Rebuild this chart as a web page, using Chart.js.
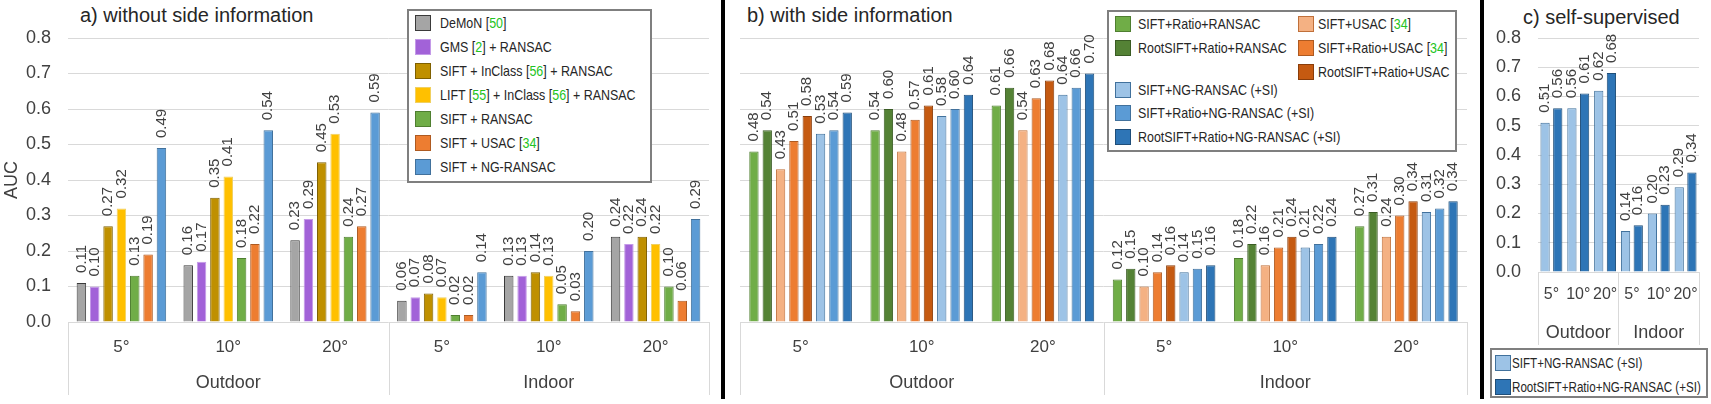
<!DOCTYPE html>
<html>
<head>
<meta charset="utf-8">
<script src="https://cdn.jsdelivr.net/npm/chart.js@4.4.0/dist/chart.umd.min.js"></script>
<style>
  body { margin: 0; width: 1711px; height: 404px; background: #fff; position: relative; overflow: hidden;
         font-family: 'Liberation Sans', Arial, sans-serif; color: #262626; }
  canvas { position: absolute; top: 0; }
  .title { position: absolute; top: 3px; font-size: 20px; line-height: 24px; white-space: nowrap; }
  .sep { position: absolute; top: 0; width: 4px; height: 399px; background: #000; }
  .legend { position: absolute; box-sizing: border-box; border: 2px solid #7f7f7f; background: #fff; }
  .item { position: absolute; white-space: nowrap; font-size: 15px; line-height: 18px; color: #262626;
          transform: scaleX(0.83); transform-origin: 0 50%; }
  .sw { position: absolute; box-sizing: border-box; width: 16px; height: 16px; border: 1.5px solid #333; }
  .ref { color: #22c322; }
</style>
</head>
<body>
<div class="title" style="left:80px">a) without side information</div>
<div class="title" style="left:747px">b) with side information</div>
<div class="title" style="left:1523px;top:5px">c) self-supervised</div>

<canvas id="chartA" width="712" height="404" style="left:0"></canvas>
<canvas id="chartB" width="740" height="404" style="left:730px"></canvas>
<canvas id="chartC" width="225" height="348" style="left:1486px"></canvas>

<div class="sep" style="left:721px"></div>
<div class="sep" style="left:1480px"></div>

<div class="legend" style="left:407px;top:9px;width:245px;height:174px"></div>
<div class="legend" style="left:1107px;top:10px;width:350px;height:142px"></div>
<div class="legend" style="left:1490px;top:348px;width:218px;height:50px"></div>

<script>
// categories
const subCats = ['5°', '10°', '20°', '5°', '10°', '20°'];
const groups = ['Outdoor', 'Indoor'];
const yTicks = [0, 0.1, 0.2, 0.3, 0.4, 0.5, 0.6, 0.7, 0.8];

// a) without side information
const namesA = ['DeMoN [50]', 'GMS [2] + RANSAC', 'SIFT + InClass [56] + RANSAC',
  'LIFT [55] + InClass [56] + RANSAC', 'SIFT + RANSAC', 'SIFT + USAC [34]', 'SIFT + NG-RANSAC'];
const demon      = [0.11, 0.16, 0.23, 0.06, 0.13, 0.24];
const gms        = [0.10, 0.17, 0.29, 0.07, 0.13, 0.22];
const siftInCls  = [0.27, 0.35, 0.45, 0.08, 0.14, 0.24];
const liftInCls  = [0.32, 0.41, 0.53, 0.07, 0.13, 0.22];
const siftRansac = [0.13, 0.18, 0.24, 0.02, 0.05, 0.10];
const siftUsac   = [0.19, 0.22, 0.27, 0.02, 0.03, 0.06];
const siftNg     = [0.49, 0.54, 0.59, 0.14, 0.20, 0.29];

// b) with side information
const namesB = ['SIFT+Ratio+RANSAC', 'RootSIFT+Ratio+RANSAC', 'SIFT+USAC [34]', 'SIFT+Ratio+USAC [34]',
  'RootSIFT+Ratio+USAC', 'SIFT+NG-RANSAC (+SI)', 'SIFT+Ratio+NG-RANSAC (+SI)', 'RootSIFT+Ratio+NG-RANSAC (+SI)'];
const ratioRansac     = [0.48, 0.54, 0.61, 0.12, 0.18, 0.27];
const rootRansac      = [0.54, 0.60, 0.66, 0.15, 0.22, 0.31];
const usacB           = [0.43, 0.48, 0.54, 0.10, 0.16, 0.24];
const ratioUsac       = [0.51, 0.57, 0.63, 0.14, 0.21, 0.30];
const rootUsac        = [0.58, 0.61, 0.68, 0.16, 0.24, 0.34];
const ngSi            = [0.53, 0.58, 0.64, 0.14, 0.21, 0.31];
const ratioNgSi       = [0.54, 0.60, 0.66, 0.15, 0.22, 0.32];
const rootNgSi        = [0.59, 0.64, 0.70, 0.16, 0.24, 0.34];

// c) self-supervised
const namesC = ['SIFT+NG-RANSAC (+SI)', 'RootSIFT+Ratio+NG-RANSAC (+SI)'];
const selfNg     = [0.51, 0.56, 0.62, 0.14, 0.20, 0.29];
const selfRootNg = [0.56, 0.61, 0.68, 0.16, 0.23, 0.34];

// colours (fill, border)
const colA = [['#a5a5a5', '#3a3a3a'], ['#a262d8', '#c49ae8'], ['#bf9000', '#7f6000'], ['#ffc000', '#f0d060'],
  ['#70ad47', '#4f7f30'], ['#ed7d31', '#ae5a21'], ['#5b9bd5', '#41719c']];
const colB = [['#70ad47', '#4f7f30'], ['#548235', '#3a5c24'], ['#f4b183', '#c0703a'], ['#ed7d31', '#ae5a21'],
  ['#c55a11', '#8a3d0a'], ['#9dc3e6', '#41719c'], ['#5b9bd5', '#41719c'], ['#2e75b6', '#1f4e79']];
const colC = [colB[5], colB[7]];

Chart.defaults.font.family = "'Liberation Sans', Arial, sans-serif";
Chart.defaults.color = '#404040';

const valueLabels = {
  id: 'valueLabels',
  afterDatasetsDraw(chart) {
    const ctx = chart.ctx;
    ctx.save();
    ctx.font = "15px 'Liberation Sans', Arial, sans-serif";
    ctx.fillStyle = '#404040';
    ctx.textAlign = 'left';
    ctx.textBaseline = 'middle';
    chart.data.datasets.forEach((ds, i) => {
      chart.getDatasetMeta(i).data.forEach((bar, j) => {
        ctx.save();
        ctx.translate(bar.x, bar.y - 10);
        ctx.rotate(-Math.PI / 2);
        ctx.fillText(ds.data[j].toFixed(2), 0, 0);
        ctx.restore();
      });
    });
    ctx.restore();
  }
};

// lines between Outdoor / Indoor in the category area
const groupLines = {
  id: 'groupLines',
  afterDraw(chart, args, opts) {
    const x = chart.scales.x, a = chart.chartArea, ctx = chart.ctx;
    const mid = (x.getPixelForValue(2) + x.getPixelForValue(3)) / 2;
    ctx.save();
    ctx.strokeStyle = '#d9d9d9';
    ctx.lineWidth = 1;
    [a.left, mid, a.right].forEach(px => {
      const p = Math.round(px) + 0.5;
      ctx.beginPath();
      ctx.moveTo(p, a.bottom);
      ctx.lineTo(p, a.bottom + opts.length);
      ctx.stroke();
    });
    ctx.restore();
  }
};

function bars(names, cols, series) {
  return series.map((d, i) => ({
    label: names[i], data: d,
    backgroundColor: cols[i][0], borderColor: cols[i][1], borderWidth: 1
  }));
}

function makeChart(id, datasets, o) {
  return new Chart(document.getElementById(id), {
    type: 'bar',
    data: { labels: subCats, datasets: datasets },
    options: {
      responsive: false,
      animation: false,
      categoryPercentage: o.catPct,
      barPercentage: o.barPct,
      layout: { padding: { top: 38, left: o.padLeft, right: o.padRight, bottom: 0 } },
      plugins: {
        legend: { display: false },
        tooltip: { enabled: false },
        groupLines: { length: o.lineLen }
      },
      scales: {
        x: {
          grid: { display: false, drawTicks: false },
          border: { display: false },
          ticks: { font: { size: o.subSize }, padding: o.subPad, color: '#404040',
                   autoSkip: false, maxRotation: 0, minRotation: 0 },
          afterFit: s => { s.height = o.subH; }
        },
        x2: {
          type: 'category',
          labels: groups,
          offset: true,
          position: 'bottom',
          grid: { display: false, drawTicks: false },
          border: { display: false },
          ticks: { font: { size: 18 }, padding: o.grpPad, color: '#404040', maxRotation: 0 },
          afterFit: s => { s.height = o.grpH; }
        },
        y: {
          min: 0, max: 0.8,
          afterBuildTicks: s => { s.ticks = yTicks.map(v => ({ value: v })); },
          grid: { color: '#d9d9d9', drawTicks: false },
          border: { display: false },
          ticks: { display: o.yLabels, font: { size: 18 }, padding: 17, color: '#404040',
                   callback: v => v.toFixed(1) },
          title: { display: o.yTitle, text: 'AUC', font: { size: 18 }, color: '#404040', padding: { top: 1, bottom: 0 } },
          afterFit: s => { s.width = o.yW; }
        }
      }
    },
    plugins: [valueLabels, groupLines]
  });
}

makeChart('chartA', bars(namesA, colA, [demon, gms, siftInCls, liftInCls, siftRansac, siftUsac, siftNg]), {
  catPct: 0.874, barPct: 0.71, padLeft: 0, padRight: 3, yW: 68, yLabels: true, yTitle: true,
  subH: 40, grpH: 42, subSize: 17, subPad: 15, grpPad: 10, lineLen: 73
});
makeChart('chartB', bars(namesB, colB, [ratioRansac, rootRansac, usacB, ratioUsac, rootUsac, ngSi, ratioNgSi, rootNgSi]), {
  catPct: 0.88, barPct: 0.7, padLeft: 10, padRight: 3, yW: 0, yLabels: false, yTitle: false,
  subH: 40, grpH: 42, subSize: 17, subPad: 15, grpPad: 10, lineLen: 73
});
makeChart('chartC', bars(namesC, colC, [selfNg, selfRootNg]), {
  catPct: 0.945, barPct: 0.73, padLeft: 0, padRight: 4, yW: 52, yLabels: true, yTitle: false,
  subH: 40, grpH: 36, subSize: 16, subPad: 13, grpPad: 10, lineLen: 73
});

// legends (html, green reference numbers)
function addItem(name, cols, sx, tx, y, size) {
  const sw = document.createElement('div');
  sw.className = 'sw';
  sw.style.left = sx + 'px';
  sw.style.top = (y - 8) + 'px';
  sw.style.background = cols[0];
  sw.style.borderColor = cols[1];
  document.body.appendChild(sw);
  const t = document.createElement('div');
  t.className = 'item';
  t.style.left = tx + 'px';
  t.style.top = (y - 9) + 'px';
  if (size) t.style.fontSize = size + 'px';
  t.innerHTML = name.replace(/\[(\d+)\]/g, '[<span class="ref">$1</span>]');
  document.body.appendChild(t);
}
namesA.forEach((n, i) => addItem(n, colA[i], 415, 440, 23 + 24 * i));
const posB = [[1115, 1138, 24], [1115, 1138, 48], [1298, 1318, 24], [1298, 1318, 48],
  [1298, 1318, 72], [1115, 1138, 90], [1115, 1138, 113], [1115, 1138, 137]];
namesB.forEach((n, i) => addItem(n, colB[i], posB[i][0], posB[i][1], posB[i][2]));
namesC.forEach((n, i) => addItem(n, colC[i], 1495, 1512, 363 + 24 * i, 14));
</script>
</body>
</html>
